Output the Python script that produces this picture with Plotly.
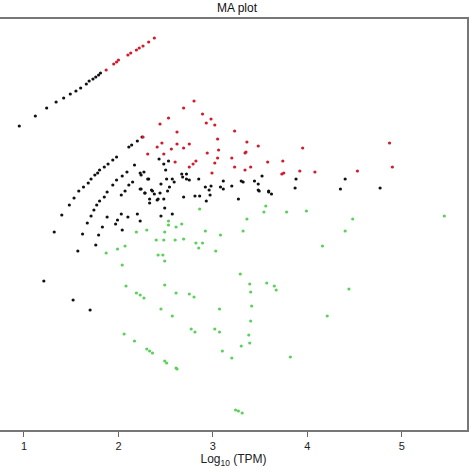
import plotly.graph_objects as go

black_x = [0.95,1.12,1.24,1.34,1.42,1.49,1.55,1.60,1.66,1.69,1.73,1.76,1.79,1.81,
           1.32,1.40,1.48,1.53,1.58,1.63,1.68,1.71,1.75,1.78,1.80,1.85,1.89,1.94,1.98,2.11,2.14,2.20,2.25,
           1.62,1.67,1.71,1.74,1.77,1.80,1.85,1.88,1.94,1.98,2.04,2.09,2.17,2.23,2.27,2.32,
           1.76,1.79,1.83,1.88,1.97,1.99,2.03,2.03,2.07,2.11,2.15,2.23,2.28,2.35,2.41,2.33,
           2.10,2.04,2.20,2.23,
           2.43,2.53,2.48,2.50,2.67,2.72,2.51,2.68,2.72,2.75,2.85,2.57,3.11,3.30,3.32,3.44,3.48,2.31,2.24,2.45,
           2.54,2.59,2.92,2.98,3.08,3.20,2.36,2.38,2.28,2.24,2.44,2.52,2.96,3.11,3.48,3.59,2.81,2.86,2.69,2.97,
           3.27,2.93,2.42,2.48,2.33,2.49,2.45,2.57,
           3.52,3.88,4.40,4.35,3.87,4.77,3.59,3.62,3.49,
           1.57,1.21,1.52,1.70]
black_m = [9.9,10.9,11.7,12.3,12.7,13.1,13.4,13.7,14.1,14.4,14.6,14.8,15.0,15.2,
           -0.7,1.0,2.0,2.7,3.4,3.8,4.2,4.6,5.0,5.2,5.5,5.8,6.1,6.5,6.8,7.8,8.0,8.4,8.8,
           -0.9,0.2,0.9,1.5,2.0,2.4,2.8,3.3,4.0,4.5,4.9,5.3,6.0,5.2,5.3,4.6,
           -2.0,-1.0,-0.2,0.8,0.1,0.5,1.1,3.0,3.4,4.0,4.3,3.6,3.2,3.5,2.5,2.6,
           0.8,-0.5,1.1,0.4,
           6.6,6.4,6.1,5.5,5.1,5.1,4.6,4.8,4.6,4.5,4.6,4.6,4.4,4.4,4.3,4.4,4.1,4.6,5.0,4.1,
           3.8,4.3,3.8,3.9,3.8,3.9,3.4,3.1,3.2,3.6,3.2,3.4,3.5,3.6,3.5,3.3,2.9,2.9,2.8,3.0,
           2.6,2.4,2.6,2.6,2.2,1.7,0.9,1.1,
           4.9,4.6,4.6,3.6,3.7,3.7,3.4,3.1,3.4,
           -2.6,-5.6,-7.5,-8.5]

red_x = [1.87,1.95,1.98,2.00,2.10,2.13,2.19,2.22,2.26,2.32,2.38,
         2.80,2.69,2.89,2.98,2.53,2.93,3.02,2.44,2.62,3.23,2.26,3.05,2.46,2.62,2.75,3.36,2.41,2.69,2.56,3.06,
         3.48,3.34,2.94,2.48,2.31,3.05,3.20,2.82,2.60,3.02,2.79,3.58,3.23,3.40,3.34,2.99,2.75,
         3.35,3.74,3.73,3.75,3.92,4.08,4.87,4.90,4.53,3.95]
red_m = [15.5,16.1,16.3,16.5,17.0,17.2,17.5,17.7,17.9,18.3,18.7,
         12.4,11.7,11.1,10.6,10.7,10.2,10.0,10.1,9.3,9.4,8.8,8.6,8.2,8.1,8.1,8.3,7.8,7.7,7.6,7.5,
         7.9,7.2,7.2,7.1,7.1,6.7,6.7,6.4,6.3,6.2,6.1,6.3,5.8,5.8,5.5,5.2,5.8,
         7.3,6.4,5.1,5.2,5.4,5.3,8.2,5.8,5.4,7.7]

green_x = [2.86,3.56,3.54,3.78,3.99,3.36,4.48,5.45,3.32,4.40,2.19,2.30,2.49,2.61,2.53,2.67,2.53,2.92,3.08,
           2.69,2.48,2.89,2.85,3.03,2.07,1.99,1.87,2.04,2.42,2.47,2.49,2.40,2.60,2.82,4.16,2.08,2.49,3.29,
           3.39,3.40,3.57,3.65,3.67,4.44,2.19,2.23,2.27,2.61,2.75,2.80,3.41,2.45,3.07,2.57,4.21,3.40,2.77,
           2.81,3.02,3.07,3.38,2.06,2.17,3.39,3.30,2.30,2.33,2.36,3.10,3.20,3.82,2.49,2.51,2.61,2.62,3.24,
           3.27,3.31]
green_m = [1.6,1.9,1.3,1.3,1.4,0.6,0.6,0.9,-0.6,-0.6,-0.7,-0.5,-0.7,-0.2,0.0,0.1,0.4,-0.6,-1.0,
           -1.4,-1.5,-1.8,-2.3,-2.6,-2.1,-2.4,-2.8,-4.0,-3.0,-3.0,-3.6,-1.5,-1.5,-1.8,-2.1,-6.1,-6.0,-4.9,
           -5.9,-6.7,-5.8,-6.1,-6.5,-6.4,-6.8,-7.0,-7.3,-6.8,-6.9,-7.2,-8.1,-8.4,-8.4,-9.1,-9.1,-9.6,-10.4,
           -10.7,-10.4,-10.7,-11.0,-10.9,-11.6,-11.8,-12.1,-12.4,-12.6,-12.8,-12.6,-13.3,-13.2,-13.6,-13.8,-14.3,-14.4,-18.5,
           -18.6,-18.8]

x_ticks = [1, 2, 3, 4, 5]

fig = go.Figure()
for xs, ms, col in [(black_x, black_m, "#111111"), (red_x, red_m, "#d01c2c"), (green_x, green_m, "#5ad15a")]:
    fig.add_trace(go.Scatter(x=xs, y=ms, mode="markers",
                             marker=dict(color=col, size=3.2, line=dict(width=0)),
                             showlegend=False, hoverinfo="skip"))

fig.update_layout(
    width=474, height=474,
    margin=dict(l=0, r=7, t=19, b=44),
    paper_bgcolor="white", plot_bgcolor="white",
    font=dict(family="Liberation Sans, Arial", color="#222", size=11),
    title=dict(text="MA plot", x=0.5, xanchor="center", y=0.983, yanchor="middle",
               font=dict(size=12, color="#111")),
)
fig.update_xaxes(range=[0.746, 5.69], tickvals=x_ticks, ticks="outside", ticklen=5,
                 tickcolor="#666", showline=True, linecolor="#777", linewidth=1.5, mirror=True,
                 showgrid=False, zeroline=False, tickfont=dict(size=11, color="#222"),
                 title=dict(text="Log<sub>10</sub> (TPM)", font=dict(size=12, color="#222"), standoff=4))
fig.update_yaxes(range=[-20.5, 20.6], showticklabels=False, ticks="", showline=True,
                 linecolor="#777", linewidth=1.5, mirror=True, showgrid=False, zeroline=False)

fig.write_html("out.html", config={"displayModeBar": False},
               post_script="document.body.style.margin='0';document.body.style.overflow='hidden';")
